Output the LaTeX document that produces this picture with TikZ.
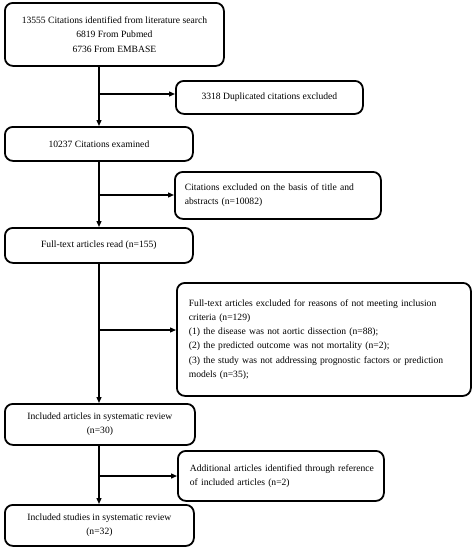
\documentclass[tikz,border=0pt]{standalone}
\usepackage{fontspec}
\setmainfont{Liberation Serif}
\usetikzlibrary{arrows.meta}
\begin{document}
\begin{tikzpicture}[x=1pt,y=-1pt,
  box/.style={draw, line width=1.8pt, rounded corners=8pt, font=\fontsize{9.6}{14.3}\selectfont, anchor=north west},
  cbox/.style={box, inner sep=0pt, align=center},
  lbox/.style={box, inner ysep=0pt, inner xsep=#1, align=left},
  arr/.style={line width=1.3pt, -{Triangle[length=6pt,width=5pt]}}]
\useasboundingbox (0,0) rectangle (474,547);
\coordinate (X) at (99,0);
\node[cbox, minimum width=219pt, minimum height=63pt] (b1) at (4,2)
  {13555 Citations identified from literature search\\6819 From Pubmed\\6736 From EMBASE};
\node[cbox, minimum width=187pt, minimum height=33pt] (d1) at (175,80)
  {3318 Duplicated citations excluded};
\node[cbox, minimum width=188pt, minimum height=34pt] (b2) at (4,126)
  {10237 Citations examined};
\node[lbox=10pt, text width=186pt, minimum height=47pt] (d2) at (174,171)
  {\mbox{Citations excluded on the basis of title and}\\abstracts (n=10082)};
\node[cbox, minimum width=188pt, minimum height=35pt] (b3) at (4,227)
  {Full-text articles read (n=155)};
\node[lbox=12pt, text width=270pt, minimum height=113pt] (d3) at (176,282)
  {\mbox{Full-text articles excluded for reasons of not meeting inclusion}\\criteria (n=129)\\(1) the disease was not aortic dissection (n=88);\\(2) the predicted outcome was not mortality (n=2);\\\mbox{(3) the study was not addressing prognostic factors or prediction}\\models (n=35);};
\node[cbox, minimum width=190pt, minimum height=41pt] (b4) at (4,403)
  {Included articles in systematic review\\(n=30)};
\node[lbox=12pt, text width=182pt, minimum height=50pt] (d4) at (177,450)
  {\mbox{Additional articles identified through reference}\\of included articles (n=2)};
\node[cbox, minimum width=189pt, minimum height=41pt] (b5) at (4,504)
  {Included studies in systematic review\\(n=32)};
\coordinate (j1) at (99,94);
\coordinate (j2) at (99,195);
\coordinate (j3) at (99,330);
\coordinate (j4) at (99,476);
\draw[arr] (b1.south -| X) -- (b2.north -| X);
\draw[arr] (j1) -- (d1.west |- j1);
\draw[arr] (b2.south -| X) -- (b3.north -| X);
\draw[arr] (j2) -- (d2.west |- j2);
\draw[arr] (b3.south -| X) -- (b4.north -| X);
\draw[arr] (j3) -- (d3.west |- j3);
\draw[arr] (b4.south -| X) -- (b5.north -| X);
\draw[arr] (j4) -- (d4.west |- j4);
\end{tikzpicture}
\end{document}
